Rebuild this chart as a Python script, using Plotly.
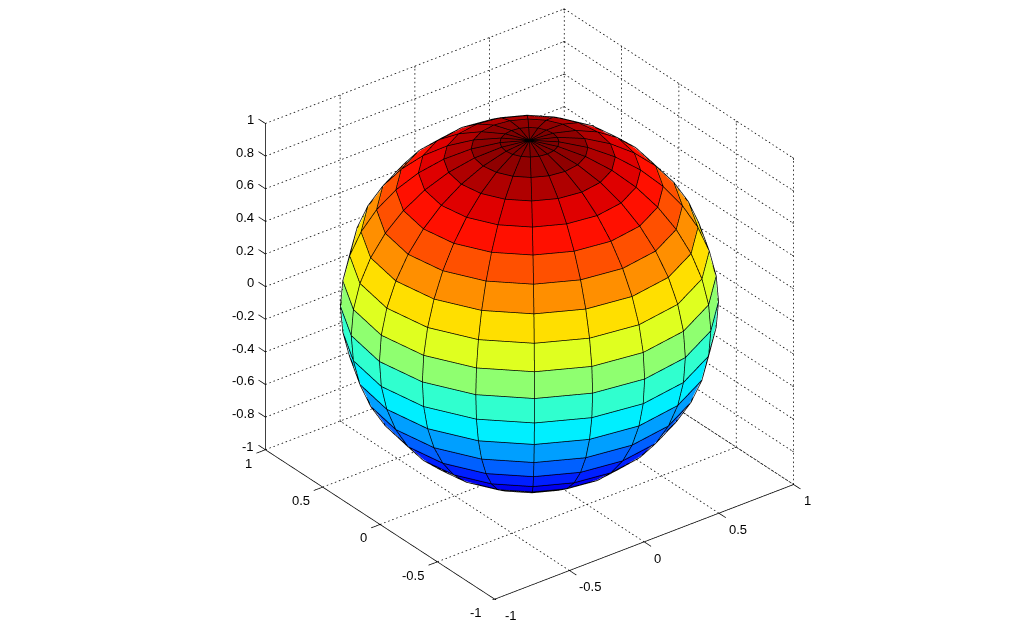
import math
import plotly.graph_objects as go

# Sphere facets: 20 latitude bands, 20 longitude sectors
lat_edges = [-90, -81, -72, -63, -54, -45, -36, -27, -18, -9, 0, 9, 18, 27, 36, 45, 54, 63, 72, 81, 90]
lon_edges = [-180, -162, -144, -126, -108, -90, -72, -54, -36, -18, 0, 18, 36, 54, 72, 90, 108, 126, 144, 162, 180]
band_colors = ["#000090", "#000090", "#00009F", "#0000BF", "#0000EF", "#0020FF", "#0060FF", "#009FFF",
               "#00EFFF", "#30FFCF", "#8FFF70", "#DFFF20", "#FFDF00", "#FF8F00", "#FF5000", "#FF1000",
               "#DF0000", "#AF0000", "#8F0000", "#800000"]

x_ticks = [-1, -0.5, 0, 0.5, 1]
y_ticks = [-1, -0.5, 0, 0.5, 1]
z_ticks = [-1, -0.8, -0.6, -0.4, -0.2, 0, 0.2, 0.4, 0.6, 0.8, 1]
x_labels = ["-1", "-0.5", "0", "0.5", "1"]
y_labels = ["-1", "-0.5", "0", "0.5", "1"]
z_labels = ["-1", "-0.8", "-0.6", "-0.4", "-0.2", "0", "0.2", "0.4", "0.6", "0.8", "1"]

TICK_LEN = 0.06
EYE_DIST = 3.0
ASPECT = 1.4
EDGE_WIDTH = 1.5
DOT_STEP_PX = 4.3
DOT_LEN_PX = 1.6
PX_PER_UNIT = (160.0, 139.0, 164.0)
FONT = dict(family="Liberation Sans, Arial, sans-serif", size=13, color="black")


def point(lat, lon, r=1.0):
    la, lo = math.radians(lat), math.radians(lon)
    return (r * math.cos(la) * math.cos(lo), r * math.cos(la) * math.sin(lo), r * math.sin(la))


# Mesh
vx, vy, vz, fi, fj, fk, fc = [], [], [], [], [], [], []
nlon = len(lon_edges)
for lat in lat_edges:
    for lon in lon_edges:
        p = point(lat, lon)
        vx.append(p[0]); vy.append(p[1]); vz.append(p[2])
for b in range(len(lat_edges) - 1):
    for s in range(nlon - 1):
        a0 = b * nlon + s
        a1 = a0 + 1
        c0 = a0 + nlon
        c1 = c0 + 1
        fi += [a0, a0]; fj += [a1, c1]; fk += [c1, c0]
        fc += [band_colors[b], band_colors[b]]

fig = go.Figure()
fig.add_trace(go.Mesh3d(
    x=vx, y=vy, z=vz, i=fi, j=fj, k=fk, facecolor=fc, flatshading=True,
    lighting=dict(ambient=1, diffuse=0, specular=0, roughness=1, fresnel=0),
    hoverinfo="skip", showscale=False,
))

# Facet edges, lifted a hair above the surface
ex, ey, ez = [], [], []
LIFT = 1.004
for lat in lat_edges:
    for lon in lon_edges:
        p = point(lat, lon, LIFT)
        ex.append(p[0]); ey.append(p[1]); ez.append(p[2])
    ex.append(None); ey.append(None); ez.append(None)
for lon in lon_edges:
    for lat in lat_edges:
        p = point(lat, lon, LIFT)
        ex.append(p[0]); ey.append(p[1]); ez.append(p[2])
    ex.append(None); ey.append(None); ez.append(None)
fig.add_trace(go.Scatter3d(x=ex, y=ey, z=ez, mode="lines", line=dict(color="black", width=EDGE_WIDTH),
                           hoverinfo="skip", showlegend=False))


def add_lines(segs, width=EDGE_WIDTH):
    xs, ys, zs = [], [], []
    for a, b in segs:
        xs += [a[0], b[0], None]; ys += [a[1], b[1], None]; zs += [a[2], b[2], None]
    fig.add_trace(go.Scatter3d(x=xs, y=ys, z=zs, mode="lines", line=dict(color="black", width=width),
                               hoverinfo="skip", showlegend=False))


def dotted(a, b):
    d = [b[i] - a[i] for i in range(3)]
    px = math.sqrt(sum((d[i] * PX_PER_UNIT[i]) ** 2 for i in range(3)))
    n = max(1, round(px / DOT_STEP_PX))
    frac = DOT_LEN_PX / px
    out = []
    for m in range(n + 1):
        t = m / n
        s = min(t + frac, 1.0)
        if s <= t:
            t = s - frac
        out.append((tuple(a[i] + d[i] * t for i in range(3)), tuple(a[i] + d[i] * s for i in range(3))))
    return out


grid = []
for z in z_ticks:
    grid.append(((-1, 1, z), (1, 1, z)))
    grid.append(((1, 1, z), (1, -1, z)))
for x in x_ticks:
    if x != -1:
        grid.append(((x, 1, -1), (x, 1, 1)))
        grid.append(((x, -1, -1), (x, 1, -1)))
for y in y_ticks:
    if y != 1:
        grid.append(((1, y, -1), (1, y, 1)))
        grid.append(((-1, y, -1), (1, y, -1)))
dots = []
for a, b in grid:
    dots += dotted(a, b)
add_lines(dots, 1.5)

axes = [((-1, 1, -1), (-1, 1, 1)), ((-1, -1, -1), (1, -1, -1)), ((-1, -1, -1), (-1, 1, -1))]
for z in z_ticks:
    axes.append(((-1, 1, z), (-1, 1 + TICK_LEN, z)))
for x in x_ticks:
    axes.append(((x, -1, -1), (x, -1 - TICK_LEN, -1)))
for y in y_ticks:
    axes.append(((-1, y, -1), (-1 - TICK_LEN, y, -1)))
add_lines(axes)

ann = []
for x, t in zip(x_ticks, x_labels):
    ann.append(dict(x=x, y=-1, z=-1, text=t, showarrow=False, xanchor="left", yanchor="middle",
                    xshift=8, yshift=-16, font=FONT))
for y, t in zip(y_ticks, y_labels):
    ann.append(dict(x=-1, y=y, z=-1, text=t, showarrow=False, xanchor="right", yanchor="middle",
                    xshift=-11, yshift=-13, font=FONT))
for z, t in zip(z_ticks, z_labels):
    ann.append(dict(x=-1, y=1, z=z, text=t, showarrow=False, xanchor="right", yanchor="middle",
                    xshift=-9, yshift=4, font=FONT))

hidden = dict(visible=False, range=[-1.1, 1.1], autorange=False)
k = EYE_DIST
fig.update_layout(
    width=1024, height=633, autosize=False, margin=dict(l=0, r=0, t=0, b=0),
    paper_bgcolor="white", showlegend=False,
    scene=dict(
        domain=dict(x=[0.0186, 1], y=[0.064, 1]),
        xaxis=hidden, yaxis=hidden, zaxis=hidden,
        aspectmode="manual", aspectratio=dict(x=ASPECT, y=ASPECT, z=ASPECT),
        camera=dict(projection=dict(type="orthographic"), up=dict(x=0, y=0, z=1),
                    center=dict(x=0, y=0, z=0),
                    eye=dict(x=-0.5272 * k, y=-0.6871 * k, z=0.5 * k)),
        annotations=ann,
    ),
)
fig.write_html("out.html")
